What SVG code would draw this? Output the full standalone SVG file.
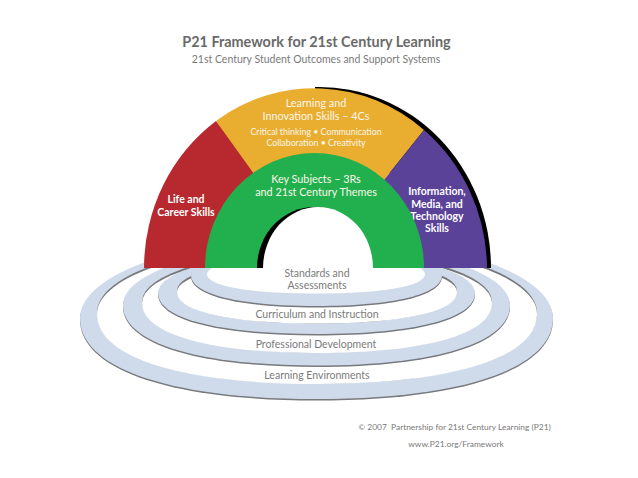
<svg xmlns="http://www.w3.org/2000/svg" xmlns:xlink="http://www.w3.org/1999/xlink" width="638" height="478" viewBox="0 0 638 478">
<style>
text{font-family:Lato,"Open Sans","Liberation Sans",sans-serif;text-anchor:middle}
.w{fill:#fbf6ea;font-size:10.8px}
.ws{fill:#fbf6ea;font-size:8.8px}
.wb{fill:#fff;font-size:10.5px;font-weight:700}
.g{fill:#7b7b7b;font-size:10.5px}
.c{fill:#7a7a7a;font-size:8.4px}
.edge{fill:#77797d}
.band{fill:#cfdaea}
.hole{fill:#fff}
</style>
<defs>
<path id="oval" d="M-1 0A1 1 0 0 1 1 0C1 .62 .62 1 0 1C-.62 1 -1 .62 -1 0Z"/>
</defs>
<rect width="638" height="478" fill="#fff"/>
<g id="title">
<text x="316.500" y="47" font-size="14.400" font-weight="700" fill="#6a6a6a">P21 Framework for 21st Century Learning</text>
<text x="316" y="63" font-size="10.500" fill="#7a7a7a">21st Century Student Outcomes and Support Systems</text>
</g>
<g id="ring-learning-environments">
<use xlink:href="#oval" href="#oval" class="edge" transform="translate(316.500 319.500) scale(236.500 81)"/>
<use xlink:href="#oval" href="#oval" class="band" transform="translate(316.500 318) scale(236.500 81)"/>
<use xlink:href="#oval" href="#oval" class="edge" transform="translate(317 312.500) scale(220 71)"/>
<use xlink:href="#oval" href="#oval" class="hole" transform="translate(317 314) scale(220 70)"/>
<text class="g" x="317" y="379">Learning Environments</text>
</g>
<g id="ring-professional-development">
<use xlink:href="#oval" href="#oval" class="edge" transform="translate(316.500 306.500) scale(193.500 60.500)"/>
<use xlink:href="#oval" href="#oval" class="band" transform="translate(316.500 305) scale(193.500 60.500)"/>
<use xlink:href="#oval" href="#oval" class="edge" transform="translate(317 301.500) scale(175 51)"/>
<use xlink:href="#oval" href="#oval" class="hole" transform="translate(317 303) scale(175 50)"/>
<text class="g" x="316" y="348">Professional Development</text>
</g>
<g id="ring-curriculum-instruction">
<use xlink:href="#oval" href="#oval" class="edge" transform="translate(316.500 294.500) scale(158.500 41)"/>
<use xlink:href="#oval" href="#oval" class="band" transform="translate(316.500 293) scale(158.500 41)"/>
<use xlink:href="#oval" href="#oval" class="edge" transform="translate(317 290.500) scale(140 33)"/>
<use xlink:href="#oval" href="#oval" class="hole" transform="translate(317 292) scale(140 31.500)"/>
<text class="g" x="317" y="318">Curriculum and Instruction</text>
</g>
<g id="ring-standards-assessments">
<use xlink:href="#oval" href="#oval" class="edge" transform="translate(316.500 276.500) scale(125.500 31)"/>
<use xlink:href="#oval" href="#oval" class="band" transform="translate(316.500 275) scale(125.500 31)"/>
<use xlink:href="#oval" href="#oval" class="hole" transform="translate(316 274) scale(109 19.500)"/>
<text class="g" x="317" y="277">Standards and</text>
<text class="g" x="317" y="289">Assessments</text>
</g>
<g id="arch-shadow">
<path d="M315 87A171.500 181 0 0 1 491 268L486 268L315 100Z" fill="#000"/>
</g>
<g id="life-career-skills">
<path d="M144 268A171.500 181 0 0 1 216 121L262 178L205 268Z" fill="#b7292f"/>
<text class="wb" x="186" y="203">Life and</text>
<text class="wb" x="186" y="216">Career Skills</text>
</g>
<g id="learning-innovation-skills">
<path d="M216 121A171.500 181 0 0 1 424 130L380 185L262 185Z" fill="#e9ae30"/>
<text class="w" x="316" y="107">Learning and</text>
<text class="w" x="316" y="120">Innovation Skills – 4Cs</text>
<text class="ws" x="316" y="135">Critical thinking • Communication</text>
<text class="ws" x="316" y="146">Collaboration • Creativity</text>
</g>
<g id="information-media-technology-skills">
<path d="M424 130A171.500 181 0 0 1 487 268L424 268L376 190Z" fill="#5a4299"/>
<text class="wb" x="437" y="195">Information,</text>
<text class="wb" x="437" y="208">Media, and</text>
<text class="wb" x="437" y="220">Technology</text>
<text class="wb" x="437" y="232">Skills</text>
</g>
<g id="key-subjects">
<path d="M205 268A109.500 115 0 0 1 424 268Z" fill="#22b04f"/>
<path d="M257 268A57 61 0 0 1 371 268Z" fill="#000"/>
<path d="M263 268A55 61 0 0 1 373 268Z" fill="#fff"/>
<text class="w" x="316" y="183">Key Subjects – 3Rs</text>
<text class="w" x="316" y="196">and 21st Century Themes</text>
</g>
<g id="copyright">
<text class="c" x="454.500" y="430">© 2007&#160; Partnership for 21st Century Learning (P21)</text>
<text class="c" x="456" y="447">www.P21.org/Framework</text>
</g>
</svg>
